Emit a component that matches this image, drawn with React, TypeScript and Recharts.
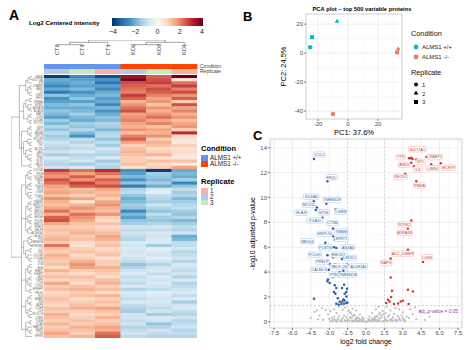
import React from "react";
import {
  CartesianGrid,
  ReferenceArea,
  ReferenceLine,
  Scatter,
  ScatterChart,
  XAxis,
  YAxis,
} from "recharts";

const FONT = '"Liberation Sans", Arial, sans-serif';

/* ---------- A: heatmap data ---------- */
const samples = ["CT2", "CT3", "CT1", "KO2", "KO3", "KO1"];
const sampleCond = [0, 0, 0, 1, 1, 1];
const sampleRep = [2, 3, 1, 2, 3, 1];
const condNames = ["ALMS1 +/+", "ALMS1 -/-"];
const condColors = ["#6495ED", "#FF4500"];
const repColors = ["#F6B0A8", "#B3CBE8", "#C9E7C3"];

const genes = [
  "LAMA4", "SULT1A1", "VTN", "CRABP2", "ANK3", "ILK", "LIMS2", "RECK", "PNMA2", "NTRK2",
  "ADRA1B", "ACADM", "NAPG", "LGR4", "COL4A1", "MYO1D", "CD44", "GPC1", "ANXA3", "KRT18",
  "PDLIM3", "FHL2", "TNC", "ACTN1", "CAV2", "MYL9", "TPM2", "FLNC", "CALD1", "THY1",
  "COL5A1", "FRZB", "S100A6", "THBS1", "MCU", "HLA-B", "NT5E", "LGMN", "ITGA11", "CTSB",
  "TMBIM1", "MRPL16", "SPRY1", "NEDD4", "POSTN", "ANXA6", "FOLH1", "HMOX2", "PRELP", "NELFE",
  "ALDH1A1", "CALML3", "PXN", "TMEM45B", "SERPINH1", "LOX", "FN1", "COL1A2", "COL6A3", "DCN",
  "LUM", "BGN", "SPARC", "IGFBP7", "MGP", "TIMP3", "CTGF", "CYR61", "EFEMP1", "FBLN1",
  "ELN", "MFAP4", "OGN", "ASPN", "COMP", "CILP", "PCOLCE", "LTBP2", "TGFBI", "VCAN",
  "HAPLN1", "MMP2", "CTSK", "SFRP2",
];

// log2 centered intensity, columns CT2 CT3 CT1 KO2 KO3 KO1
const heat = [
  [-3.8, -2.6, -3.6, 3.4, 2.4, 4.0],
  [-2.0, -2.2, -2.4, 3.8, 2.6, 0.6],
  [-2.2, -2.0, -3.0, 2.6, 2.8, 2.2],
  [-2.6, -2.2, -2.2, 2.4, 2.2, 2.8],
  [-2.0, -1.8, -2.6, 2.2, 2.6, 2.0],
  [-2.8, -2.4, -2.0, 2.0, 2.4, 2.6],
  [-1.6, -2.0, -1.8, 2.8, 2.0, 1.8],
  [-2.4, -1.6, -2.2, 2.4, 1.6, 2.4],
  [-2.2, -2.2, -2.0, 1.4, 1.8, 1.0],
  [-1.8, -1.6, -2.6, 1.8, 1.2, 2.6],
  [-2.0, -2.0, -1.8, 2.2, 1.8, 1.6],
  [-1.6, -1.8, -2.4, 2.6, 1.4, 2.0],
  [-1.8, -1.4, -2.0, 1.6, 1.8, 1.4],
  [-2.2, -1.8, -1.6, 1.8, 2.2, 1.8],
  [-1.4, -2.0, -1.8, 2.0, 1.6, 1.2],
  [-1.8, -1.4, -1.2, 1.6, 2.0, 1.6],
  [-1.2, -1.6, -1.4, 1.4, 1.2, 1.8],
  [-1.6, -1.2, -1.8, 1.8, 1.6, 1.0],
  [-1.0, -1.8, -1.2, 1.2, 1.4, 3.0],
  [-1.4, -2.4, -1.0, 2.0, 1.8, 0.8],
  [-1.2, -1.0, -1.6, 2.4, 1.0, 0.6],
  [-0.8, -1.2, -1.0, 1.6, 1.4, 0.4],
  [-1.0, -0.8, -1.4, 1.0, 1.2, 1.0],
  [-1.2, -1.0, -0.8, 1.2, 0.8, 0.6],
  [-0.8, -0.6, -1.0, 1.4, 1.0, 0.8],
  [-1.4, -1.2, -1.2, 1.2, 1.4, 0.6],
  [-0.6, -1.0, -0.6, 1.0, 0.6, 0.4],
  [-1.0, -0.8, -1.4, 1.0, 1.2, 1.2],
  [-1.2, -1.4, -1.0, 1.2, 0.8, 0.4],
  [-0.8, -0.6, -1.2, 0.6, 1.0, 1.6],
  [2.8, 2.2, 3.0, -2.4, -3.8, -2.0],
  [2.0, 1.6, 2.2, -2.2, -1.4, -1.8],
  [1.8, 2.4, 1.6, -1.8, -1.6, -2.0],
  [2.6, 1.8, 2.4, -2.4, -1.8, -1.4],
  [2.2, 2.8, 2.0, -1.6, -1.4, -2.6],
  [1.6, 2.4, 2.6, -2.8, -2.0, -1.6],
  [1.4, 1.2, 1.6, -1.2, -0.6, -1.0],
  [1.6, 1.4, 1.2, -1.0, -0.4, -1.4],
  [1.2, 1.0, 1.4, -1.6, -1.0, -1.2],
  [1.8, 1.6, 1.0, -2.0, -1.2, -1.8],
  [1.4, 0.6, 1.6, -1.8, -1.4, -1.4],
  [1.2, 1.4, 1.8, -1.4, -0.8, -1.2],
  [1.6, 1.8, 1.4, -1.6, -1.2, -1.0],
  [2.2, 1.4, 1.2, -2.6, -1.6, -1.4],
  [1.4, 2.2, 1.8, -1.8, -1.0, -1.6],
  [2.4, 1.8, 1.0, -2.2, -1.4, -1.2],
  [2.6, 1.6, 0.8, -1.6, -1.6, -1.8],
  [1.6, 1.2, 1.2, -1.4, -1.2, -1.4],
  [1.0, 1.0, 0.8, -0.8, -0.8, -1.0],
  [1.2, 1.2, 1.0, -1.0, -1.0, -1.2],
  [1.0, 1.4, 1.2, -0.8, -0.6, -0.8],
  [1.2, 1.0, 1.6, -1.0, -0.8, -2.0],
  [1.4, 1.2, 1.4, -1.2, -0.6, -1.8],
  [1.0, 0.8, 1.0, -0.6, -0.6, -1.0],
  [2.2, 0.6, 1.2, -0.8, -1.4, -1.0],
  [1.2, 1.0, 0.8, -0.6, -0.4, -0.8],
  [1.0, 1.2, 1.0, -0.8, -0.6, -1.2],
  [1.4, 0.8, 1.2, -0.6, -0.8, -1.0],
  [1.2, 1.0, 0.6, -0.8, -0.4, -0.8],
  [1.0, 1.4, 1.0, -1.0, -0.8, -1.2],
  [1.2, 1.8, 1.0, -1.6, -1.2, -0.6],
  [0.8, 1.6, 1.4, -1.2, -0.8, -0.8],
  [1.4, 1.0, 1.2, -0.8, -0.6, -1.0],
  [1.0, 0.8, 1.0, -0.6, -1.0, -0.8],
  [1.2, 1.2, 0.8, -1.0, -0.6, -1.2],
  [0.8, 1.0, 1.2, -0.8, -0.8, -0.6],
  [1.6, 0.8, 1.4, -1.0, -0.6, -1.2],
  [1.0, 1.2, 1.0, -0.6, -0.8, -1.0],
  [1.2, 1.4, 1.2, -1.2, -1.0, -0.8],
  [0.8, 1.0, 0.8, -0.6, -0.4, -0.6],
  [1.0, 1.2, 1.4, -0.8, -0.6, -1.0],
  [1.2, 0.8, 1.0, -1.0, -0.8, -0.6],
  [1.0, 1.0, 1.2, -0.6, -0.6, -1.4],
  [0.8, 1.2, 1.0, -1.0, -0.8, -0.8],
  [1.2, 1.4, 1.6, -1.2, -1.0, -0.6],
  [1.0, 1.0, 1.2, -1.4, -0.8, -1.0],
  [1.4, 0.8, 1.0, -0.8, -1.4, -1.2],
  [1.2, 1.0, 1.4, -0.8, -0.6, -0.8],
  [1.0, 1.2, 1.0, -1.0, -0.8, -1.2],
  [1.4, 1.0, 1.2, -0.8, -1.6, -1.0],
  [1.0, 1.4, 1.6, -1.2, -1.2, -0.8],
  [1.2, 1.2, 1.4, -1.0, -0.8, -1.2],
  [1.6, 1.0, 2.2, -0.8, -1.0, -1.0],
  [1.2, 1.4, 2.4, -1.0, -1.2, -1.2],
];

type Tree = number | Tree[];
const colTree: Tree = [[[0, 1], 2], [[3, 4], 5]];
const rowTree: Tree = [
  [
    [[[0, 1], 2], [[3, 4], [5, 6]]],
    [[[7, 8], [9, [10, 11]]], [[12, 13], [14, 15]]],
    [[[16, 17], [18, 19]], [[20, [21, 22]], [[23, 24], [25, [26, 27]]]], [28, 29]],
  ],
  [
    [[[30, 31], [32, 33]], [[34, 35], 36], [37, [38, 39]]],
    [[[40, 41], [42, 43]], [[44, 45], [46, 47]], [[48, 49], 50]],
    [[[51, 52], [53, 54]], [[55, 56], [57, [58, 59]]]],
    [[[60, 61], [62, 63]], [[64, 65], [66, 67]], [68, 69]],
    [[[70, 71], [72, 73]], [[74, 75], [76, 77]]],
    [[78, 79], [80, [81, 82]], 83],
  ],
];

/* ---------- B: PCA data ---------- */
const pc1 = [-25.3, -7.3, -24, -10, 33.5, 32.7];
const pc2 = [4, 22, 11, -42, 3, 0.5];
const pcaCond = [0, 0, 0, 1, 1, 1];
const pcaRep = [1, 2, 3, 1, 2, 3];
const pcaTicksX = [-20, 0, 20];
const pcaTicksY = [-40, -20, 0, 20];

/* ---------- C: volcano data ---------- */
const grayPts: [number, number][] = [
  [-0.1, 0.02], [0.05, 0.01], [0.15, 0.05], [-0.2, 0.06], [0.25, 0.1], [-0.3, 0.12], [0.35, 0.08],
  [-0.4, 0.15], [0.45, 0.2], [-0.5, 0.18], [0.55, 0.25], [-0.6, 0.3], [0.65, 0.22], [-0.7, 0.35],
  [0.75, 0.4], [-0.8, 0.28], [0.85, 0.45], [-0.9, 0.5], [0.95, 0.38], [-1.0, 0.55], [1.05, 0.6],
  [-1.1, 0.42], [1.15, 0.7], [-1.2, 0.65], [1.25, 0.5], [-1.3, 0.75], [1.35, 0.85], [-1.4, 0.9],
  [1.45, 0.62], [-2.9, 0.05], [-2.7, 0.15], [-2.5, 0.08], [-2.3, 0.25], [-2.1, 0.12], [-1.9, 0.3],
  [-1.7, 0.05], [-1.5, 0.2], [-1.3, 0.35], [-1.1, 0.1], [-0.9, 0.22], [-0.7, 0.08], [-2.8, 0.3],
  [-2.6, 0.4], [-2.4, 0.02], [-2.2, 0.45], [-2.0, 0.18], [-1.8, 0.5], [-1.6, 0.38], [-1.4, 0.12],
  [-1.2, 0.28], [-1.0, 0.04], [-0.8, 0.14], [-0.6, 0.1], [0.6, 0.05], [0.8, 0.15], [1.0, 0.1],
  [1.2, 0.3], [1.4, 0.05], [1.6, 0.2], [1.8, 0.4], [2.0, 0.08], [2.2, 0.35], [2.4, 0.15],
  [2.6, 0.45], [2.8, 0.1], [3.0, 0.3], [3.2, 0.05], [0.7, 0.3], [0.9, 0.02], [1.1, 0.25],
  [1.3, 0.5], [1.5, 0.35], [1.7, 0.1], [1.9, 0.55], [2.1, 0.22], [2.3, 0.6], [2.5, 0.04],
  [2.7, 0.28], [2.9, 0.5], [3.1, 0.18], [3.3, 0.4], [-4.5, 0.3], [-4.2, 0.8], [-3.8, 0.5],
  [-3.5, 0.15], [-3.3, 0.95], [-3.1, 0.6], [-3.6, 1.1], [-2.6, 1.0], [-2.9, 0.85], [-2.2, 1.2],
  [-1.9, 0.95], [-1.7, 1.15], [-2.4, 0.7], [-3.9, 0.2], [-4.0, 0.9], [3.5, 0.3], [3.8, 0.6],
  [4.1, 0.2], [4.4, 0.9], [4.8, 0.15], [5.2, 0.4], [3.6, 1.0], [2.4, 1.1], [2.0, 0.9],
  [1.7, 1.2], [3.0, 0.75], [2.7, 1.0], [4.0, 1.15], [5.0, 0.7], [1.6, 0.7], [-0.3, 0.35],
  [0.3, 0.4], [-0.5, 0.6], [0.5, 0.7], [-0.8, 0.9], [0.8, 1.0], [-1.1, 1.05], [1.0, 1.2],
  [-0.2, 0.25], [0.2, 0.2], [-0.35, 0.01], [0.4, 0.02], [-0.55, 0.03], [0.58, 0.06],
  [-0.75, 0.04], [0.72, 0.09], [-0.95, 0.07], [0.92, 0.12], [-1.15, 0.03], [1.12, 0.06],
  [-1.35, 0.05], [1.32, 0.02], [-1.55, 0.08], [1.55, 0.1], [-1.75, 0.14], [1.75, 0.03],
  [-1.95, 0.02], [1.95, 0.16], [-2.15, 0.06], [2.15, 0.05], [-2.35, 0.11], [2.35, 0.09],
  [-2.55, 0.2], [2.55, 0.12], [-2.75, 0.02], [2.75, 0.2], [3.05, 0.1], [-3.0, 0.22],
];
const bluePts: [number, number][] = [
  [-3.1, 3.4], [-2.96, 3.12], [-2.55, 2.93], [-2.42, 2.72], [-2.61, 2.4], [-1.55, 2.66],
  [-1.79, 2.98], [-1.6, 2.4], [-3.15, 3.25], [-2.5, 2.26], [-1.96, 2.72], [-1.74, 2.26],
  [-1.6, 2.04], [-2.42, 1.45], [-2.23, 1.37], [-2.01, 1.43], [-1.79, 1.45], [-1.6, 1.51],
  [-1.52, 1.56], [-4.24, 1.85], [-1.74, 1.72], [-1.93, 1.64], [-2.14, 1.61], [-2.3, 1.9],
  [-1.85, 1.8], [-2.7, 3.6],
];
const redPts: [number, number][] = [
  [3.6, 13.15], [3.8, 13.1], [2.01, 3.57], [3.42, 2.58], [3.83, 2.44], [2.12, 2.5],
  [1.79, 1.77], [1.93, 1.64], [2.83, 1.64], [3.0, 1.69], [2.28, 1.43], [2.61, 1.48],
  [3.48, 1.43], [1.65, 1.51], [2.05, 2.0],
];
const blueLabeled: [string, number, number][] = [
  ["COL5", -4.24, 13.1], ["FRQL", -3.15, 11.3], ["S100A6", -4.26, 9.7], ["TMEM119", -3.23, 9.5],
  ["MCU1L", -4.0, 9.2], ["HLA-B", -4.1, 9.0], ["NT5E", -3.75, 8.85], ["LGMN", -2.47, 9.03],
  ["ITGA11", -3.56, 8.36], ["CTSB", -3.04, 7.82], ["TMBIM", -2.69, 7.5], ["MRPL16", -2.69, 6.88],
  ["SPRY1", -2.55, 6.6], ["NEDD4", -3.32, 6.35], ["POSTN", -2.61, 5.99], ["ANXA6", -2.42, 5.94],
  ["FOLH1", -3.15, 5.35], ["HMOX2", -2.69, 5.19], ["LMOD1", -1.96, 5.05], ["PRELP", -2.96, 4.65],
  ["NELF-CE", -2.55, 4.6], ["ALDH1A1", -1.52, 4.6], ["CALML3", -3.04, 4.19], ["PXN", -2.14, 3.98],
  ["TMEM45B", -1.85, 4.11],
];
const redLabeled: [string, number, number][] = [
  ["SULT1A1", 3.7, 13.2], ["VTN", 3.5, 13.15], ["CRABP2", 4.92, 13.25], ["NT1", 4.1, 13.06],
  ["ANK3", 3.69, 12.8], ["ILK", 3.91, 12.5], ["LIMS4", 5.32, 12.66], ["MCETP", 6.09, 12.74],
  ["RECK1", 3.2, 11.9], ["PNMA", 4.1, 11.3], ["NTRK2", 3.7, 8.15], ["ADRA1B", 3.42, 7.5],
  ["ACC_DIMER", 3.42, 5.8], ["LGR4", 4.65, 4.81], ["NAPG", 2.01, 5.08],
];
// where ggrepel put each tag (data units)
const tagAt: Record<string, [number, number]> = {
  COL5: [-3.8, 13.45], FRQL: [-2.83, 11.62], S100A6: [-4.46, 10.06], TMEM119: [-2.77, 9.8],
  MCU1L: [-4.65, 9.4], "HLA-B": [-5.27, 8.77], NT5E: [-3.45, 8.8], LGMN: [-2.06, 8.85],
  ITGA11: [-4.18, 8.15], CTSB: [-2.75, 7.95], TMBIM: [-2.01, 7.28], MRPL16: [-3.37, 7.07],
  SPRY1: [-2.01, 6.67], NEDD4: [-4.78, 6.48], POSTN: [-3.32, 5.99], ANXA6: [-1.47, 5.99],
  FOLH1: [-4.18, 5.4], HMOX2: [-2.28, 5.4], LMOD1: [-1.33, 5.13], PRELP: [-3.56, 4.81],
  "NELF-CE": [-2.2, 4.46], ALDH1A1: [-0.6, 4.46], CALML3: [-3.85, 4.19], PXN: [-2.61, 3.79],
  TMEM45B: [-1.47, 3.79],
  SULT1A1: [4.18, 13.87], VTN: [2.83, 13.25], CRABP2: [5.6, 13.25], NT1: [4.45, 12.85],
  ANK3: [3.1, 12.62], ILK: [4.25, 12.25], LIMS4: [5.46, 12.35], MCETP: [6.74, 12.4],
  RECK1: [2.83, 11.64], PNMA: [4.37, 10.95], NTRK2: [3.15, 7.82], ADRA1B: [3.15, 7.15],
  ACC_DIMER: [3.0, 5.48], LGR4: [5.0, 5.19], NAPG: [1.65, 4.73],
};
const volTicksX = [-7.5, -6, -4.5, -3, -1.5, 0, 1.5, 3, 4.5, 6, 7.5];
const volMinorX = [-6.75, -5.25, -3.75, -2.25, -0.75, 0.75, 2.25, 3.75, 5.25, 6.75];
const volTicksY = [0, 2, 4, 6, 8, 10, 12, 14];
const volMinorY = [1, 3, 5, 7, 9, 11, 13];

/* ---------- helpers ---------- */
const RDBU = ["#053061", "#2166AC", "#4393C3", "#92C5DE", "#D1E5F0", "#F7F7F7",
  "#FDDBC7", "#F4A582", "#D6604D", "#B2182B", "#67001F"];

function heatColor(v: number) {
  const t = ((Math.max(-4, Math.min(4, v)) + 4) / 8) * (RDBU.length - 1);
  const i = Math.min(RDBU.length - 2, Math.floor(t));
  const f = t - i;
  const a = parseInt(RDBU[i].slice(1), 16);
  const b = parseInt(RDBU[i + 1].slice(1), 16);
  const ch = (s: number) => Math.round(((a >> s) & 255) * (1 - f) + ((b >> s) & 255) * f);
  return `rgb(${ch(16)},${ch(8)},${ch(0)})`;
}

type Seg = [number, number, number, number];
function layoutTree(t: Tree, segs: Seg[], lift = 0): { p: number; h: number } {
  if (typeof t === "number") return { p: t, h: 0 };
  const kids = t.map((k) => layoutTree(k, segs));
  const h = Math.max(...kids.map((k) => k.h)) + 1 + lift;
  const ps = kids.map((k) => k.p);
  const lo = Math.min(...ps);
  const hi = Math.max(...ps);
  segs.push([lo, h, hi, h]);
  kids.forEach((k) => segs.push([k.p, k.h, k.p, h]));
  return { p: (lo + hi) / 2, h };
}

const colSegs: Seg[] = [];
const colRoot = layoutTree(colTree, colSegs);
const rowSegs: Seg[] = [];
const rowRoot = layoutTree(rowTree, rowSegs, 3);

const HM_W = 153;
const HM_H = 263;
const CELL_W = HM_W / samples.length;
const CELL_H = HM_H / genes.length;

const heatCells = heat.flatMap((vals, r) => vals.map((v, c) => ({ c, r, v })));
const annCells = samples.flatMap((_, c) => [
  { c, r: 0, fill: condColors[sampleCond[c]] },
  { c, r: 1, fill: repColors[sampleRep[c] - 1] },
]);
const leaves = genes.map((_, r) => ({ h: 0, r }));
const colLeaves = samples.map((_, c) => ({ c, h: 0 }));

const pcaData = pc1.map((x, i) => ({ x, y: pc2[i], cond: pcaCond[i], rep: pcaRep[i] }));
const toXY = (a: [number, number][]) => a.map(([x, y]) => ({ x, y }));
const tagData = (a: [string, number, number][]) =>
  a.map(([name]) => ({ name, x: tagAt[name][0], y: tagAt[name][1] }));

const none = () => <g />;

function HeatCell(p: any) {
  return (
    <rect x={p.cx - CELL_W / 2} y={p.cy - CELL_H / 2} width={CELL_W + 0.4}
      height={CELL_H + 0.4} fill={heatColor(p.payload.v)} />
  );
}
function AnnCell(p: any) {
  return <rect x={p.cx - CELL_W / 2} y={p.cy - 2.5} width={CELL_W + 0.4} height={5.2} fill={p.payload.fill} />;
}
function ColLabel(p: any) {
  return (
    <text transform={`translate(${p.x + 2},${p.y - 1}) rotate(-90)`} fontSize={5.6}
      fill="#444" fontFamily={FONT}>{samples[p.payload.value]}</text>
  );
}
function AnnLabel(p: any) {
  return (
    <text x={p.x + 1} y={p.y + 1.7} fontSize={5} fill="#444" fontFamily={FONT}>
      {p.payload.value === 0 ? "Condition" : "Replicate"}
    </text>
  );
}

function PcaMark(p: any) {
  const c = p.payload.cond === 0 ? "#00BFC4" : "#F8766D";
  const { cx, cy } = p;
  if (p.payload.rep === 1) return <circle cx={cx} cy={cy} r={2.2} fill={c} />;
  if (p.payload.rep === 2)
    return <path d={`M${cx},${cy - 2.6}L${cx + 2.4},${cy + 1.6}L${cx - 2.4},${cy + 1.6}Z`} fill={c} />;
  return <rect x={cx - 2} y={cy - 2} width={4} height={4} fill={c} />;
}

const dot = (fill: string, r: number) => (p: any) => <circle cx={p.cx} cy={p.cy} r={r} fill={fill} />;
const tag = (stroke: string, color: string) => (p: any) => {
  const name: string = p.payload.name;
  const w = name.length * 2.1 + 3;
  return (
    <g>
      <rect x={p.cx - w / 2} y={p.cy - 2.7} width={w} height={5.4} rx={1} fill="#fff"
        stroke={stroke} strokeWidth={0.5} />
      <text x={p.cx} y={p.cy + 1.3} fontSize={3.7} textAnchor="middle" fill={color}
        fontFamily={FONT}>{name}</text>
    </g>
  );
};

function T({ x, y, s, b, c, mid, children }: any) {
  return (
    <div style={{
      position: "absolute", left: x, top: y, fontSize: s, fontWeight: b ? 700 : 400,
      color: c ?? "#000", lineHeight: 1, whiteSpace: "nowrap", fontFamily: FONT,
      transform: mid ? "translate(-50%, -50%)" : "translate(0, -50%)",
    }}>{children}</div>
  );
}
function Box({ x, y, w, h, bg }: any) {
  return <div style={{ position: "absolute", left: x, top: y, width: w, height: h, background: bg }} />;
}
function At({ x, y, children }: any) {
  return <div style={{ position: "absolute", left: x, top: y }}>{children}</div>;
}

const tickStyle = { fontSize: 6, fill: "#4D4D4D", fontFamily: FONT };
const titleStyle = { fontSize: 7.5, fill: "#000", fontFamily: FONT };

export default function App() {
  return (
    <div style={{ position: "absolute", left: 0, top: 0, width: 474, height: 350, background: "#fff", overflow: "hidden", fontFamily: FONT }}>
      {/* panel letters */}
      <T x={9} y={15} s={14} b>A</T>
      <T x={243} y={16} s={13} b>B</T>
      <T x={253} y={135} s={13} b>C</T>

      {/* heatmap colour key */}
      <T x={29} y={23} s={6.2} b>Log2 Centered intensity</T>
      <Box x={112} y={18} w={91} h={8} bg={`linear-gradient(to right, ${RDBU.join(",")})`} />
      {[-4, -2, 0, 2, 4].map((v, i) => (
        <T key={v} x={113 + i * 22.25} y={31} s={7} mid c="#222">{v === 0 ? "0" : v < 0 ? `\u2212${-v}` : `${v}`}</T>
      ))}

      {/* annotation bars + column labels */}
      <At x={44} y={34}>
        <ScatterChart width={HM_W + 40} height={40} margin={{ top: 0, right: 0, bottom: 0, left: 0 }}>
          <XAxis type="number" dataKey="c" orientation="top" domain={[-0.5, 5.5]} ticks={[0, 1, 2, 3, 4, 5]}
            height={30} tickLine={false} axisLine={false} tick={<ColLabel />} interval={0} />
          <YAxis type="number" dataKey="r" orientation="right" domain={[-0.5, 1.5]} reversed ticks={[0, 1]}
            width={40} tickLine={false} axisLine={false} tickSize={0} tick={<AnnLabel />} interval={0} />
          <Scatter data={annCells} shape={AnnCell} isAnimationActive={false} />
        </ScatterChart>
      </At>

      {/* column dendrogram */}
      <At x={44} y={40}>
        <ScatterChart width={HM_W} height={7} margin={{ top: 0, right: 0, bottom: 0, left: 0 }}>
          <XAxis type="number" dataKey="c" domain={[-0.5, 5.5]} hide />
          <YAxis type="number" dataKey="h" domain={[0, colRoot.h]} hide />
          <Scatter data={colLeaves} shape={none} isAnimationActive={false} />
          {colSegs.map((s, i) => (
            <ReferenceLine key={i} segment={[{ x: s[0], y: s[1] }, { x: s[2], y: s[3] }]}
              stroke="#666" strokeWidth={0.6} ifOverflow="visible" />
          ))}
        </ScatterChart>
      </At>

      {/* row dendrogram */}
      <At x={11} y={75}>
        <ScatterChart width={21} height={HM_H} margin={{ top: 0, right: 0, bottom: 0, left: 0 }}>
          <XAxis type="number" dataKey="h" domain={[0, rowRoot.h]} reversed hide />
          <YAxis type="number" dataKey="r" domain={[-0.5, genes.length - 0.5]} reversed hide />
          <Scatter data={leaves} shape={none} isAnimationActive={false} />
          {rowSegs.map((s, i) => (
            <ReferenceLine key={i} segment={[{ x: s[1], y: s[0] }, { x: s[3], y: s[2] }]}
              stroke="#555" strokeWidth={0.4} ifOverflow="visible" />
          ))}
        </ScatterChart>
      </At>

      {/* heatmap body */}
      <At x={31} y={75}>
        <ScatterChart width={HM_W + 13} height={HM_H} margin={{ top: 0, right: 0, bottom: 0, left: 0 }}>
          <XAxis type="number" dataKey="c" domain={[-0.5, 5.5]} hide />
          <YAxis type="number" dataKey="r" domain={[-0.5, genes.length - 0.5]} reversed width={13}
            ticks={genes.map((_, i) => i)} interval={0} tickFormatter={(i: number) => genes[i]}
            tickLine={false} axisLine={false} tickSize={0} tickMargin={0.5}
            tick={{ fontSize: 2.7, fill: "#666", fontFamily: FONT }} />
          <Scatter data={heatCells} shape={HeatCell} isAnimationActive={false} />
        </ScatterChart>
      </At>

      {/* heatmap legends */}
      <T x={201} y={149} s={7.5} b>Condition</T>
      <Box x={201} y={155} w={7} h={6} bg={condColors[0]} />
      <Box x={201} y={161} w={7} h={6} bg={condColors[1]} />
      <T x={210} y={158} s={6.3} c="#222">{condNames[0]}</T>
      <T x={210} y={164} s={6.3} c="#222">{condNames[1]}</T>
      <T x={201} y={182} s={7.5} b>Replicate</T>
      {repColors.map((c, i) => (
        <React.Fragment key={c}>
          <Box x={201} y={188 + i * 5.8} w={7} h={5.8} bg={c} />
          <T x={210} y={191 + i * 5.8} s={6.3} c="#222">{i + 1}</T>
        </React.Fragment>
      ))}

      {/* B: PCA */}
      <T x={362} y={10} s={5.8} b mid>PCA plot – top 500 variable proteins</T>
      <At x={268} y={0}>
        <ScatterChart width={142} height={138} margin={{ top: 14, right: 8, bottom: 0, left: 0 }}>
          <CartesianGrid verticalValues={[-10, 10, 30]} horizontalValues={[-30, -10, 10]} stroke="#F3F3F3" strokeWidth={0.5} />
          <CartesianGrid verticalValues={pcaTicksX} horizontalValues={pcaTicksY} stroke="#E8E8E8" strokeWidth={0.7} />
          <XAxis type="number" dataKey="x" domain={[-28, 36]} ticks={pcaTicksX} height={19}
            tick={tickStyle} tickSize={2} tickMargin={1} axisLine={false} stroke="#777"
            label={{ value: "PC1: 37.6%", position: "center", dy: 3.5, style: titleStyle }} />
          <YAxis type="number" dataKey="y" domain={[-45.5, 27]} ticks={pcaTicksY} width={38}
            tick={tickStyle} tickSize={2} tickMargin={1} axisLine={false} stroke="#777"
            label={{ value: "PC2: 24.5%", angle: -90, position: "center", dx: -4, style: titleStyle }} />
          <ReferenceArea x1={-28} x2={36} y1={-45.5} y2={27} fill="none" stroke="#C4C4C4" strokeWidth={0.8} ifOverflow="visible" />
          <Scatter data={pcaData} shape={PcaMark} isAnimationActive={false} />
        </ScatterChart>
      </At>
      <T x={411} y={34} s={7.3} c="#111">Condition</T>
      <At x={413} y={44}><svg width={6} height={16}>
        <circle cx={3} cy={3} r={2.4} fill="#00BFC4" /><circle cx={3} cy={13} r={2.4} fill="#F8766D" />
      </svg></At>
      <T x={422} y={47} s={6} c="#222">{condNames[0]}</T>
      <T x={422} y={57} s={6} c="#222">{condNames[1]}</T>
      <T x={411} y={73} s={7.3} c="#111">Replicate</T>
      <At x={413} y={81}><svg width={6} height={25}>
        <circle cx={3} cy={3.5} r={2} fill="#000" />
        <path d="M3,9.5L5.4,13.5L0.6,13.5Z" fill="#000" />
        <rect x={1} y={19} width={4} height={4} fill="#000" />
      </svg></At>
      {[1, 2, 3].map((r, i) => (
        <T key={r} x={422} y={85 + i * 8.7} s={6} c="#222">{r}</T>
      ))}

      {/* C: volcano */}
      <At x={240} y={130}>
        <ScatterChart width={226} height={220} margin={{ top: 9, right: 4, bottom: 0, left: 0 }}>
          <CartesianGrid verticalValues={volMinorX} horizontalValues={volMinorY} stroke="#F4F4F4" strokeWidth={0.5} />
          <CartesianGrid verticalValues={volTicksX} horizontalValues={volTicksY} stroke="#E8E8E8" strokeWidth={0.7} />
          <XAxis type="number" dataKey="x" domain={[-7.83, 7.83]} ticks={volTicksX} interval={0} height={22}
            tickFormatter={(v: number) => v.toFixed(1)} tick={tickStyle} tickSize={2} tickMargin={1}
            axisLine={false} stroke="#777"
            label={{ value: "log2 fold change", position: "center", dy: 3, style: { ...titleStyle, fontSize: 7 } }} />
          <YAxis type="number" dataKey="y" domain={[-0.5, 14.7]} ticks={volTicksY} interval={0} width={30}
            tick={tickStyle} tickSize={2} tickMargin={1} axisLine={false} stroke="#777"
            label={{ value: "-log10 adjusted p-value", angle: -90, position: "center", dx: -2, style: { ...titleStyle, fontSize: 7 } }} />
          <ReferenceArea x1={-7.83} x2={7.83} y1={-0.5} y2={14.7} fill="none" stroke="#C4C4C4" strokeWidth={0.8} ifOverflow="visible" />
          <ReferenceLine x={-1.5} stroke="#CFCFCF" strokeDasharray="2 2" strokeWidth={0.7} />
          <ReferenceLine x={1.5} stroke="#CFCFCF" strokeDasharray="2 2" strokeWidth={0.7} />
          <ReferenceLine y={1.3} stroke="#D8A8B8" strokeDasharray="2 2" strokeWidth={0.7}
            label={{ value: "adj. p-value = 0.05", position: "insideTopRight", offset: 4, fill: "#9B3AA8", fontSize: 4.8, fontFamily: FONT }} />
          <Scatter data={toXY(grayPts)} shape={dot("#BEBEBE", 1.1)} isAnimationActive={false} />
          <Scatter data={toXY(bluePts)} shape={dot("#2A5CA8", 1.25)} isAnimationActive={false} />
          <Scatter data={toXY(redPts)} shape={dot("#CC3B2E", 1.25)} isAnimationActive={false} />
          <Scatter data={blueLabeled.map(([, x, y]) => ({ x, y }))} shape={dot("#2A5CA8", 1.25)} isAnimationActive={false} />
          <Scatter data={redLabeled.map(([, x, y]) => ({ x, y }))} shape={dot("#CC3B2E", 1.25)} isAnimationActive={false} />
          <Scatter data={tagData(blueLabeled)} shape={tag("#9CC0E6", "#2B5C9B")} isAnimationActive={false} />
          <Scatter data={tagData(redLabeled)} shape={tag("#F2A8A2", "#C23A2E")} isAnimationActive={false} />
        </ScatterChart>
      </At>
    </div>
  );
}
